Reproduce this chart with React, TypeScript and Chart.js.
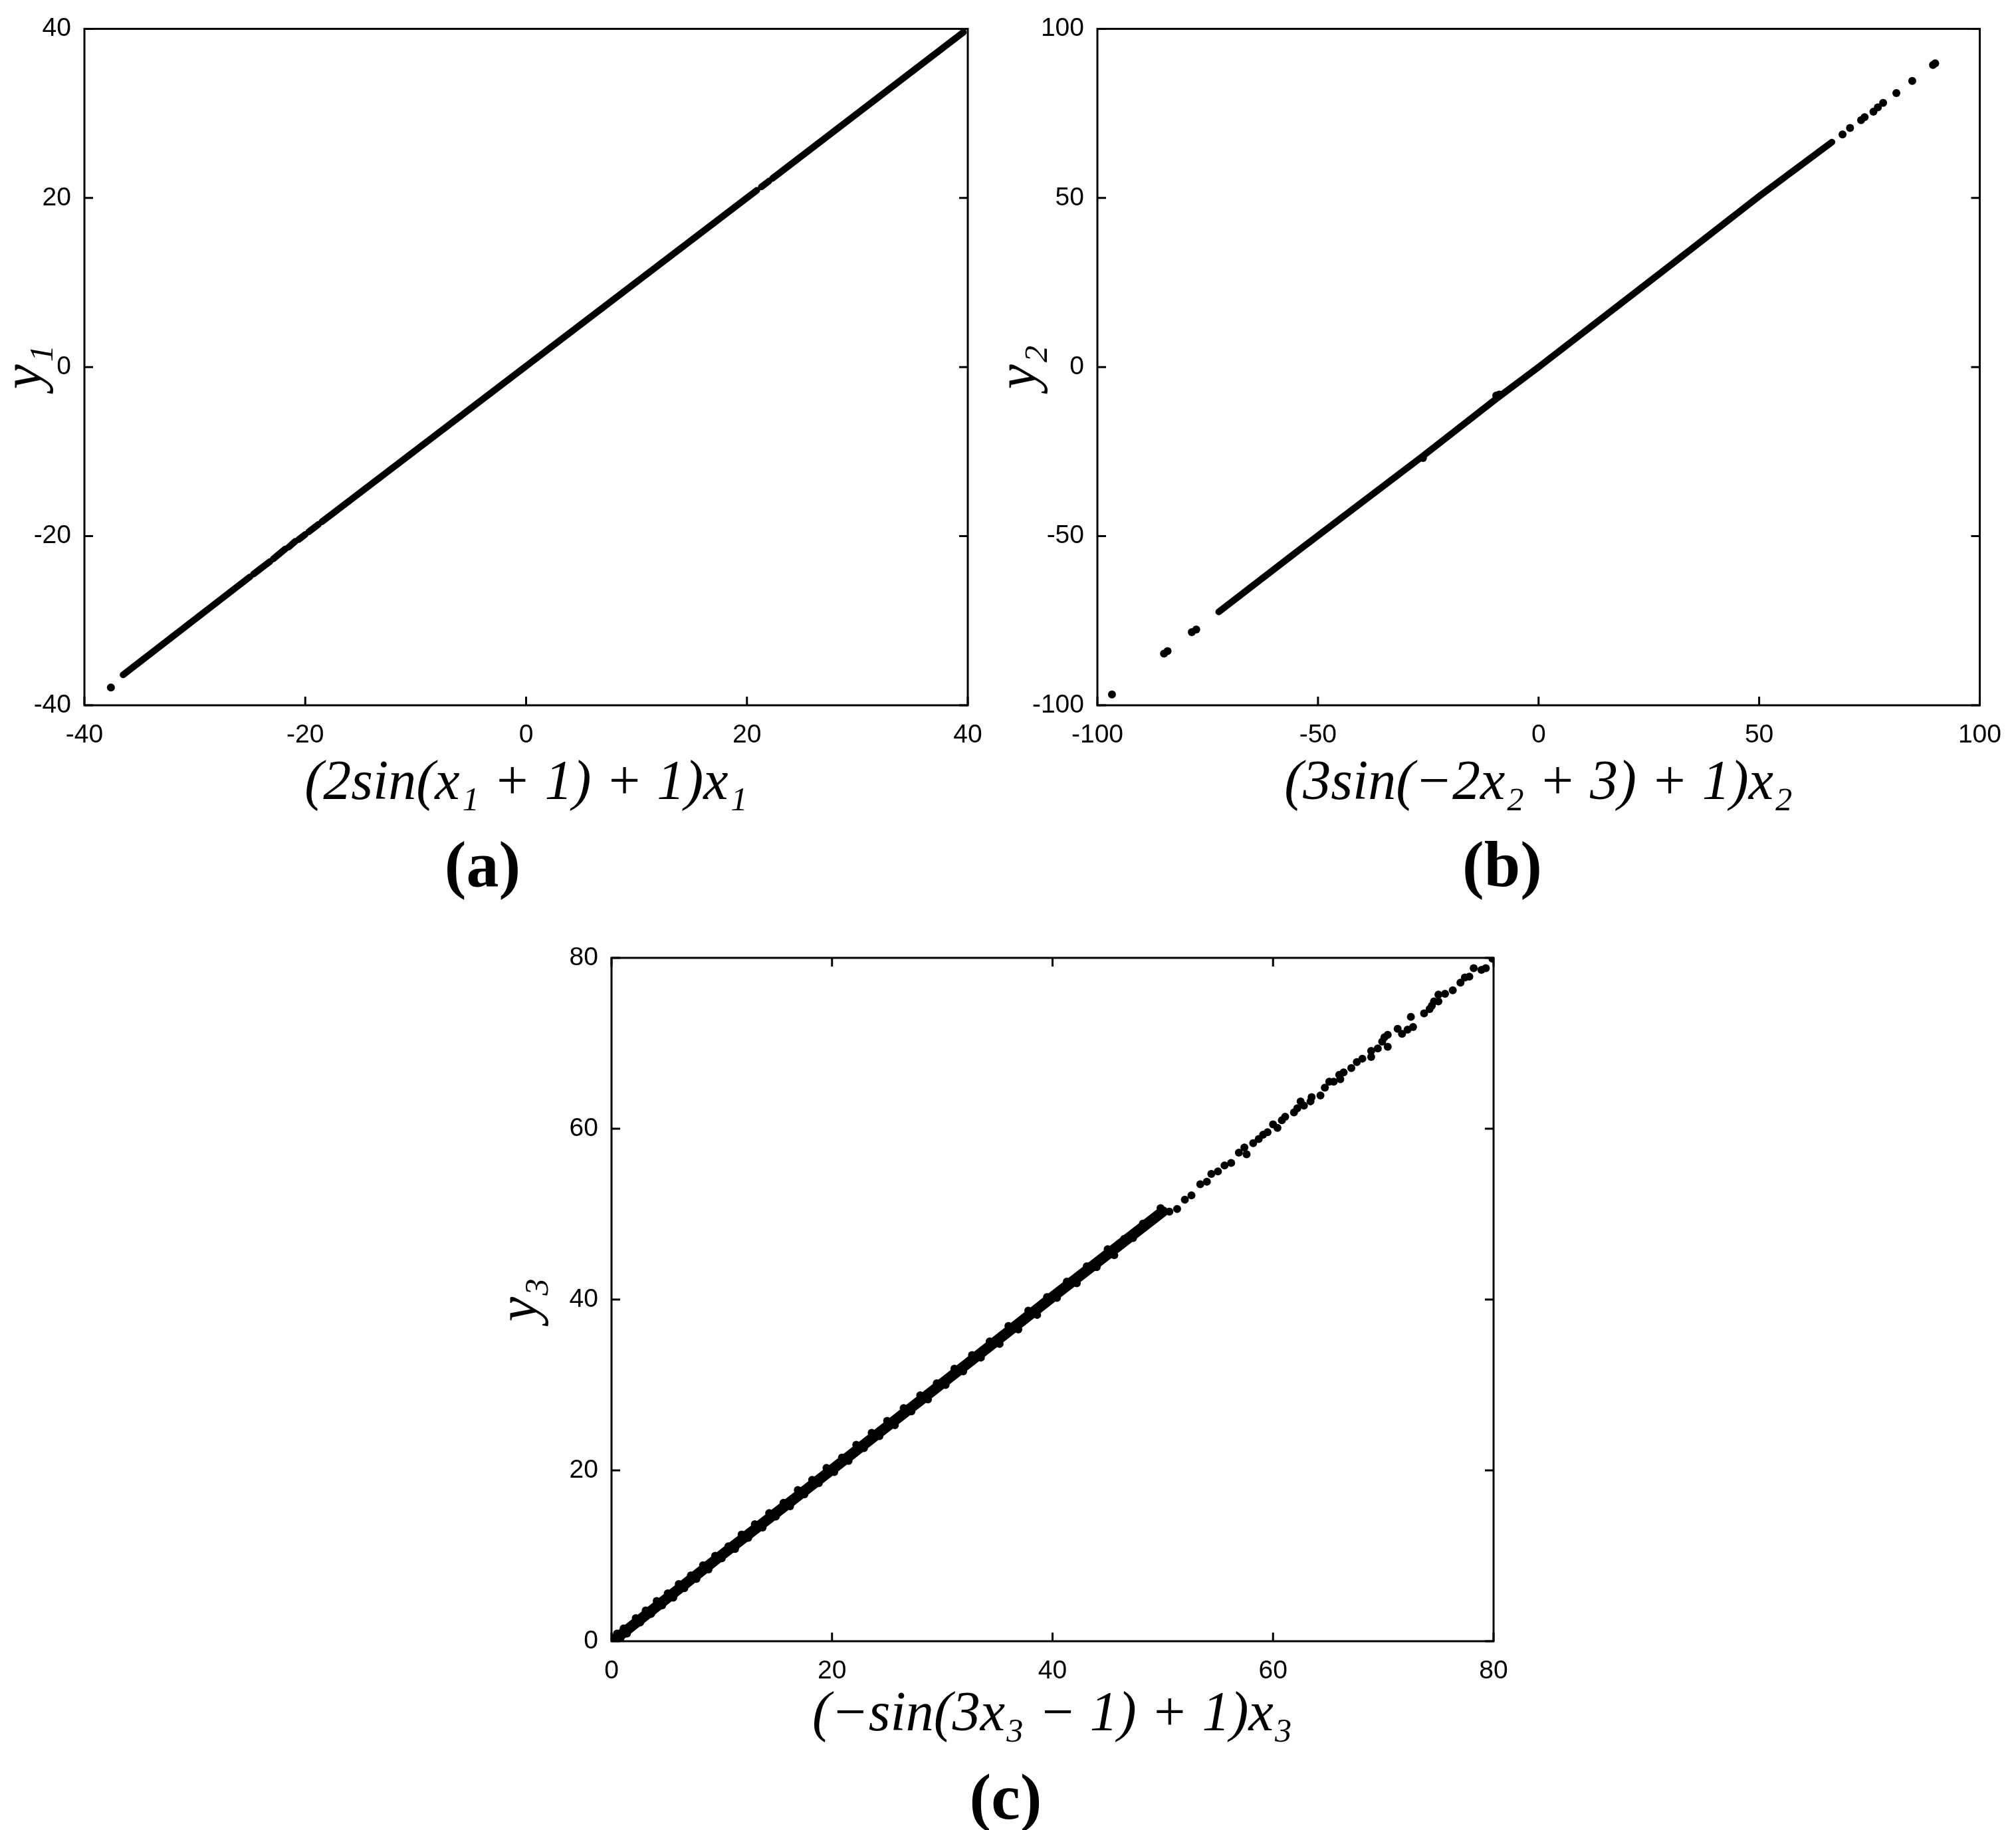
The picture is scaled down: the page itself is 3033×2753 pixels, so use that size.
import React, { useEffect, useRef } from "react";
import { Chart, registerables } from "chart.js";

Chart.register(...registerables);

// ---------- Panel (a) ----------
const aTicks = [-40, -20, 0, 20, 40];
const aBandX = [-36.5, -25.0, null, -24.7, -23.2, null, -22.9, -21.8, null, -21.5, -20.9, null, -20.6, -20.0, null, -19.7, -18.8, null, -18.5, 20.9, null, 21.3, 22.0, null, 22.3, 39.6];
const aBandY = [-36.4, -24.8, null, -24.5, -23.0, null, -22.7, -21.5, null, -21.3, -20.6, null, -20.4, -19.8, null, -19.5, -18.6, null, -18.3, 20.9, null, 21.3, 22.0, null, 22.3, 39.6];
const aDotsX = [-37.6];
const aDotsY = [-37.9];
const aXTitle = "(2sin(x₁ + 1) + 1)x₁";
const aYTitle = "y₁";

// ---------- Panel (b) ----------
const bTicks = [-100, -50, 0, 50, 100];
const bBandX = [-72.5, -54.3, -26.5, -9.5, 0, 30, 50, 66.5];
const bBandY = [-72.4, -54.1, -26.6, -9.3, 0, 30.2, 50.5, 66.5];
const bDotsX = [-96.7, -84.9, -84.1, -78.6, -77.6, -26.2, -9.6, -8.9, 68.9, 70.6, 73.1, 73.9, 75.9, 76.9, 78.1, 81.1, 84.7, 89.4, 89.9];
const bDotsY = [-96.8, -84.7, -84.0, -78.4, -77.6, -26.9, -8.4, -8.1, 68.8, 70.7, 73.0, 73.9, 75.5, 76.8, 78.1, 81.0, 84.6, 89.3, 89.8];
const bXTitle = "(3sin(−2x₂ + 3) + 1)x₂";
const bYTitle = "y₂";

// ---------- Panel (c) ----------
const cTicks = [0, 20, 40, 60, 80];
const cBandX = [0.3, 10, 20, 30, 40, 50.0];
const cBandY = [0.2, 10.1, 20.1, 30.2, 40.3, 50.3];
const cDotsX = [
  0.0, 0.2, 0.5, 0.8, 1.1, 1.4, 1.8, 2.2, 2.6, 3.1, 3.6, 4.1, 4.6, 5.1, 5.6, 6.1, 6.6, 7.2, 7.7, 8.3,
  8.8, 9.4, 10.0, 10.6, 11.2, 11.8, 12.4, 13.0, 13.7, 14.3, 14.9, 15.6, 16.2, 16.9, 17.5, 18.2, 18.8, 19.5, 20.2, 20.9,
  21.5, 22.2, 22.9, 23.6, 24.3, 25.0, 25.7, 26.5, 27.2, 28.0, 28.7, 29.5, 30.3, 31.1, 31.9, 32.7, 33.5, 34.3, 35.2, 36.0,
  36.9, 37.8, 38.6, 39.5, 40.4, 41.3, 42.2, 43.1, 44.0, 45.0, 45.6, 46.5, 47.3, 48.2, 49.0, 49.8,
  50.6, 51.3, 52.0, 52.6, 53.4, 54.0, 54.4, 55.0, 55.6, 56.2, 56.9, 57.4, 57.6, 58.2, 58.7, 59.1, 59.5, 60.0, 60.4, 60.8,
  61.1, 61.9, 62.2, 62.5, 62.8, 63.4, 63.5, 64.3, 64.7, 65.1, 65.5, 66.0, 66.1, 66.4, 67.1, 67.6, 68.1, 68.9, 68.9, 69.5,
  69.9, 70.1, 70.4, 70.4, 71.3, 71.7, 72.2, 72.5, 72.7, 73.7, 74.2, 74.4, 74.6, 75.0, 75.0, 75.6, 76.3, 77.0, 77.4, 77.8,
  78.2, 78.9, 79.3, 79.9,
];
const cDotsY = [
  0.4, 0.0, 0.9, 0.3, 1.5, 0.9, 1.9, 2.7, 2.2, 3.6, 3.2, 4.7, 4.2, 5.6, 5.1, 6.7, 6.2, 7.7, 7.3, 8.9,
  8.4, 10.0, 9.7, 11.1, 10.8, 12.5, 12.1, 13.7, 13.3, 15.0, 14.6, 16.2, 15.8, 17.7, 17.2, 18.9, 18.5, 20.3, 19.8, 21.5,
  21.1, 23.0, 22.6, 24.4, 24.0, 25.8, 25.3, 27.3, 26.9, 28.8, 28.3, 30.2, 30.0, 31.9, 31.6, 33.5, 33.2, 35.1, 34.8, 36.9,
  36.5, 38.7, 38.2, 40.3, 40.2, 42.1, 41.9, 43.9, 43.8, 45.9, 45.2, 47.1, 47.2, 48.9, 49.2, 50.7,
  50.3, 50.6, 51.7, 52.2, 53.5, 53.8, 54.7, 55.0, 55.7, 56.0, 57.2, 57.8, 57.0, 58.3, 58.8, 59.3, 59.6, 60.5, 60.1, 61.0,
  61.4, 61.9, 62.4, 63.2, 62.7, 63.2, 63.7, 63.9, 64.8, 65.5, 65.5, 66.3, 65.8, 66.6, 67.1, 67.8, 68.2, 68.4, 69.1, 69.4,
  70.2, 70.7, 69.6, 71.0, 71.7, 71.1, 71.6, 73.1, 71.9, 73.5, 74.0, 74.4, 74.9, 74.9, 75.7, 75.8, 76.2, 77.1, 77.7, 77.8,
  78.8, 78.6, 78.8, 79.9,
];
const cXTitle = "(−sin(3x₃ − 1) + 1)x₃";
const cYTitle = "y₃";

const toPts = (xs: (number | null)[], ys: (number | null)[]) => xs.map((x, i) => ({ x, y: ys[i] }));

const framePlugin = {
  id: "frame",
  afterDraw(chart: any, _args: any, opts: any) {
    const { ctx, chartArea: a, scales } = chart;
    ctx.save();
    ctx.strokeStyle = "#000";
    ctx.lineWidth = 3;
    ctx.strokeRect(a.left, a.top, a.right - a.left, a.bottom - a.top);
    const L = 13;
    ctx.beginPath();
    for (const t of scales.x.ticks) {
      const px = scales.x.getPixelForValue(t.value);
      ctx.moveTo(px, a.bottom);
      ctx.lineTo(px, a.bottom - L);
      if (opts && opts.top) {
        ctx.moveTo(px, a.top);
        ctx.lineTo(px, a.top + L);
      }
    }
    for (const t of scales.y.ticks) {
      const py = scales.y.getPixelForValue(t.value);
      ctx.moveTo(a.left, py);
      ctx.lineTo(a.left + L, py);
      ctx.moveTo(a.right, py);
      ctx.lineTo(a.right - L, py);
    }
    ctx.stroke();
    ctx.restore();
  },
};

type PanelCfg = {
  left: number;
  top: number;
  width: number;
  height: number;
  ticks: number[];
  band: { x: number | null; y: number | null }[];
  bandWidth: number;
  dots: { x: number | null; y: number | null }[];
  dotRadius: number;
  xTitle: string;
  yTitle: string;
  yAxisWidth: number;
  xAxisHeight: number;
  pad: { left: number; top: number; right: number; bottom: number };
  xTitlePadBottom: number;
  yTitlePadTop: number;
  topTicks: boolean;
};

const TITLE_FONT = { family: "'Liberation Serif', 'DejaVu Serif', serif", size: 84, style: "italic" as const };
const TICK_FONT = { family: "'Liberation Sans', Arial, sans-serif", size: 39 };

function Panel({ cfg }: { cfg: PanelCfg }) {
  const ref = useRef<HTMLCanvasElement | null>(null);
  useEffect(() => {
    if (!ref.current) return;
    const t = cfg.ticks;
    const mk = (horizontal: boolean) => ({
      type: "linear" as const,
      min: t[0],
      max: t[t.length - 1],
      afterBuildTicks: (s: any) => {
        s.ticks = t.map((v) => ({ value: v }));
      },
      afterFit: (s: any) => {
        if (horizontal) s.height = cfg.xAxisHeight;
        else s.width = cfg.yAxisWidth;
      },
      grid: { display: false, drawTicks: false },
      border: { display: false },
      ticks: {
        color: "#000",
        font: TICK_FONT,
        padding: horizontal ? 22 : 20,
        maxRotation: 0,
        autoSkip: false,
        callback: (v: any) => String(v),
      },
      title: {
        display: true,
        text: horizontal ? cfg.xTitle : cfg.yTitle,
        color: "#000",
        font: TITLE_FONT,
        padding: horizontal ? { top: 0, bottom: cfg.xTitlePadBottom } : { top: cfg.yTitlePadTop, bottom: 0 },
      },
    });
    const chart = new Chart(ref.current, {
      type: "scatter",
      data: {
        datasets: [
          {
            data: cfg.band as any,
            showLine: true,
            spanGaps: false,
            borderColor: "#000",
            borderWidth: cfg.bandWidth,
            borderCapStyle: "round",
            borderJoinStyle: "round",
            pointRadius: 0,
            pointHoverRadius: 0,
          } as any,
          {
            data: cfg.dots as any,
            pointRadius: cfg.dotRadius,
            pointBackgroundColor: "#000",
            pointBorderWidth: 0,
            backgroundColor: "#000",
            borderColor: "#000",
          } as any,
        ],
      },
      options: {
        animation: false,
        responsive: false,
        devicePixelRatio: 1,
        layout: { padding: cfg.pad },
        plugins: {
          legend: { display: false },
          tooltip: { enabled: false },
          frame: { top: cfg.topTicks },
        } as any,
        scales: { x: mk(true), y: mk(false) } as any,
      },
      plugins: [framePlugin],
    });
    return () => chart.destroy();
  }, [cfg]);
  return (
    <canvas
      ref={ref}
      width={cfg.width}
      height={cfg.height}
      style={{ position: "absolute", left: cfg.left, top: cfg.top, width: cfg.width, height: cfg.height }}
    />
  );
}

const panelA: PanelCfg = {
  left: -20, top: 0, width: 1520, height: 1260,
  ticks: aTicks, band: toPts(aBandX, aBandY), bandWidth: 10, dots: toPts(aDotsX, aDotsY), dotRadius: 6,
  xTitle: aXTitle, yTitle: aYTitle,
  yAxisWidth: 147, xAxisHeight: 1260 - 1061,
  pad: { left: 0, top: 32, right: 44, bottom: 0 },
  xTitlePadBottom: 30, yTitlePadTop: 10, topTicks: false,
};
const panelB: PanelCfg = {
  left: 1470, top: 0, width: 1563, height: 1260,
  ticks: bTicks, band: toPts(bBandX, bBandY), bandWidth: 10, dots: toPts(bDotsX, bDotsY), dotRadius: 6,
  xTitle: bXTitle, yTitle: bYTitle,
  yAxisWidth: 181, xAxisHeight: 1260 - 1061,
  pad: { left: 0, top: 25, right: 45, bottom: 0 },
  xTitlePadBottom: 30, yTitlePadTop: 16, topTicks: false,
};
const panelC: PanelCfg = {
  left: 700, top: 1380, width: 1650, height: 1260,
  ticks: cTicks, band: toPts(cBandX, cBandY), bandWidth: 16, dots: toPts(cDotsX, cDotsY), dotRadius: 6,
  xTitle: cXTitle, yTitle: cYTitle,
  yAxisWidth: 220, xAxisHeight: 2640 - 2469,
  pad: { left: 0, top: 61, right: 103, bottom: 0 },
  xTitlePadBottom: 9, yTitlePadTop: 35, topTicks: true,
};

const captionStyle = (x: number, y: number): React.CSSProperties => ({
  position: "absolute",
  left: x,
  top: y,
  transform: "translate(-50%, -50%)",
  fontFamily: "'Liberation Serif', 'DejaVu Serif', serif",
  fontWeight: "bold",
  fontSize: 98,
  lineHeight: 1,
  color: "#000",
  whiteSpace: "nowrap",
});

export default function App() {
  return (
    <div style={{ position: "absolute", left: 0, top: 0, width: 3033, height: 2753, background: "#fff", overflow: "hidden" }}>
      <Panel cfg={panelA} />
      <Panel cfg={panelB} />
      <Panel cfg={panelC} />
      <div style={captionStyle(726, 1300)}>(a)</div>
      <div style={captionStyle(2260, 1300)}>(b)</div>
      <div style={captionStyle(1513, 2703)}>(c)</div>
    </div>
  );
}
